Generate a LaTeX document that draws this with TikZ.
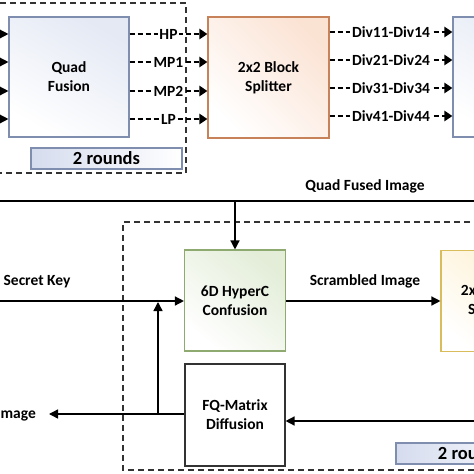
\documentclass[tikz,border=0pt]{standalone}
\usepackage{fontspec}
\setmainfont{Carlito}
\usetikzlibrary{arrows.meta}
\definecolor{bgray}{HTML}{7F8DAE}
\definecolor{bfill}{HTML}{E4E9F4}
\definecolor{orng}{HTML}{C8825A}
\definecolor{ofill}{HTML}{FBE3D4}
\definecolor{grn}{HTML}{8EAA70}
\definecolor{gfill}{HTML}{E3EDD8}
\definecolor{gold}{HTML}{D9BC5C}
\definecolor{yfill}{HTML}{FDF1D2}
\definecolor{rfill}{HTML}{D5DCEE}
\begin{document}
\begin{tikzpicture}[x=1pt,y=-1pt]
\tikzset{
  box/.style={draw, line width=1.1pt, inner sep=0pt, align=center,
    font=\bfseries\fontsize{15.5}{19}\selectfont},
  lab/.style={inner sep=1pt, font=\bfseries\fontsize{15.5}{18}\selectfont},
  ar/.style={-{Triangle[length=9pt,width=9pt]}, line width=1.4pt},
  dar/.style={-{Triangle[length=8pt,width=10pt]}, line width=2.4pt, dash pattern=on 5pt off 3pt},
  frame/.style={dash pattern=on 6pt off 4pt, line width=1.3pt, draw=black!80},
  roundsbox/.style={draw=bgray, line width=1.1pt, left color=rfill, right color=white,
    minimum width=151pt, minimum height=21pt, inner sep=0pt,
    font=\bfseries\fontsize{18.5}{20}\selectfont}
}
\useasboundingbox (0,0) rectangle (474,474);

% frames
\draw[frame] (-10,3) -- (186,3) -- (186,173) -- (-10,173);
\draw[frame] (490,222) -- (123,222) -- (123,470) -- (490,470);

% top row
\node[box, draw=bgray, top color=bfill, bottom color=white, shading angle=-30,
  minimum width=120pt, minimum height=120pt] (qf) at (69,77) {Quad\\Fusion};
\node[box, draw=orng, top color=ofill, bottom color=white, shading angle=-45,
  minimum width=121pt, minimum height=121pt] (split) at (268.5,77.5) {2x2 Block\\Splitter};
\node[box, draw=bgray, top color=bfill, bottom color=white, shading angle=-30,
  minimum width=120pt, minimum height=120pt] (rbox) at (513,77) {};
\node[roundsbox] (r1) at (106.5,158.5) {2 rounds};

\foreach \yy/\nm in {34/a,62/b,91/c,119/d}{
  \coordinate (in\nm) at (-10,\yy);
  \draw[ar] (in\nm) -- (qf.west |- in\nm);
}
\foreach \yy/\txt in {34/HP,62/MP1,91/MP2,119/LP}{
  \draw[dar] (qf.east |- 0,\yy) -- node[lab, fill=white]{\txt} (split.west |- 0,\yy);
}
\foreach \yy/\txt in {32/Div11-Div14,60/Div21-Div24,88/Div31-Div34,116/Div41-Div44}{
  \draw[dar] (split.east |- 0,\yy) -- node[lab, fill=white, inner sep=2pt]{\txt} (rbox.west |- 0,\yy);
}

% bottom part
\node[box, draw=grn, top color=gfill, bottom color=white, shading angle=-40,
  minimum width=101pt, minimum height=101pt] (conf) at (235,300.5) {6D HyperC\\Confusion};
\node[box, draw=gold, top color=yfill, bottom color=white, shading angle=-40,
  minimum width=101pt, minimum height=101pt] (sbox) at (491.5,301) {2x2 Block\\Splitter};
\node[box, draw=black!80, fill=white,
  minimum width=100pt, minimum height=102pt] (diff) at (235,415) {FQ-Matrix\\Diffusion};
\node[roundsbox] (r2) at (471.5,453.5) {2 rounds};

\coordinate (qfl) at (-5,201);
\coordinate (qfr) at (480,201);
\coordinate (qfj) at (235,201);
\draw[line width=1.4pt] (qfl) -- (qfr);
\node[lab] (qftxt) at (365,186) {Quad Fused Image};
\draw[ar] (qfj) -- (conf.north);

\coordinate (skl) at (-5,301);
\draw[ar] (skl) -- (conf.west |- skl);
\node[lab] (sktxt) at (37,282) {Secret Key};

\draw[ar] (conf.east |- 0,301) -- (sbox.west |- 0,301);
\node[lab] (sctxt) at (365,281) {Scrambled Image};

\coordinate (din) at (480,421);
\draw[ar] (din) -- (diff.east |- din);

\coordinate (jn) at (158,414);
\coordinate (outend) at (49,414);
\coordinate (keyhit) at (158,302);
\draw[ar] (diff.west |- jn) -- (outend);
\draw[ar] (jn) -- (keyhit);
\node[lab, anchor=east] (outtxt) at (37,414) {Encrypted Image};
\end{tikzpicture}
\end{document}
